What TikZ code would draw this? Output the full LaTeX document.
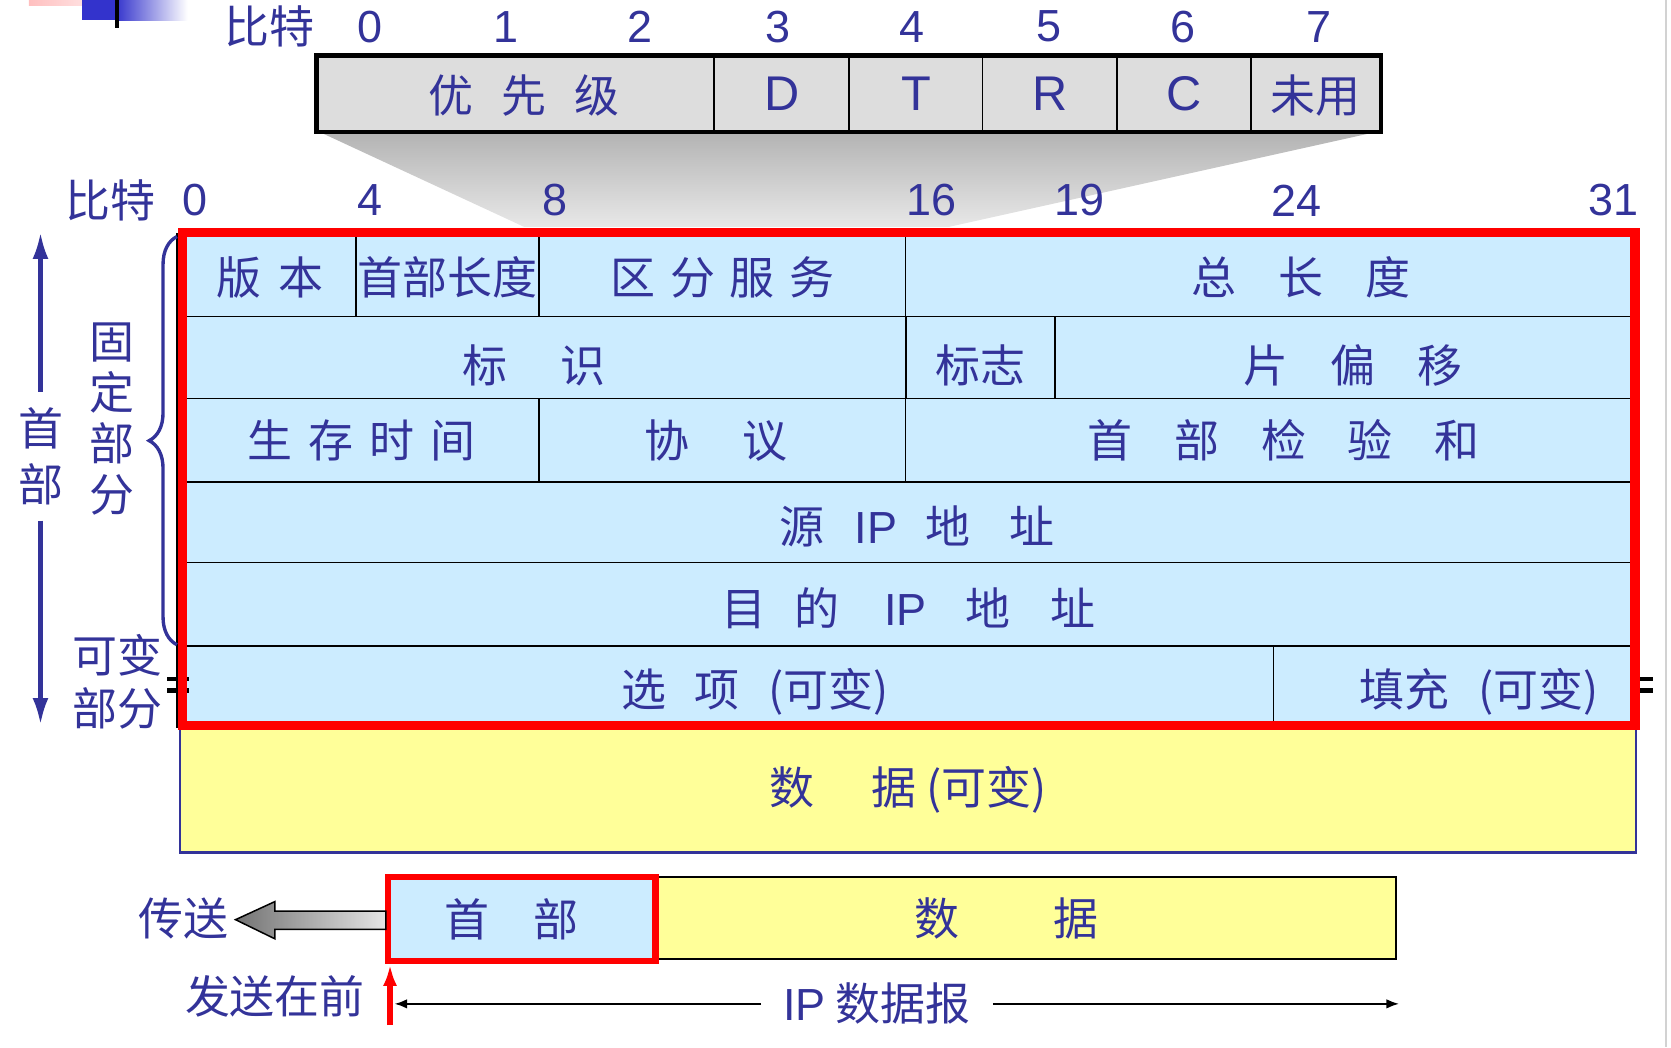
\documentclass[tikz,border=0pt]{standalone}
\usepackage{fontspec}
\setmainfont{Noto Sans CJK SC}
\newfontfamily\lat{Liberation Sans}
\usetikzlibrary{decorations.pathreplacing,arrows.meta}
\definecolor{ink}{HTML}{333399}
\definecolor{hdrblue}{HTML}{CCECFF}
\definecolor{datayel}{HTML}{FFFF99}
\definecolor{tosgray}{HTML}{DDDDDD}
\definecolor{slideblue}{HTML}{3333CC}
\newcommand{\gap}[1]{\hspace{#1em}}
\newcommand{\low}[2]{\raisebox{-#1}[\height][\depth]{#2}}

\begin{document}
\begin{tikzpicture}[x=0.01cm,y=-0.01cm,
  every node/.style={text=ink,font=\fontsize{12}{14}\selectfont,inner sep=0pt},
  field/.style={draw=black,line width=0.45pt,fill=hdrblue},
  tosfield/.style={draw=black,line width=0.45pt,fill=tosgray},
  bit/.style={font=\lat\fontsize{12}{14}\selectfont}]

  \useasboundingbox (0,0) rectangle (1568,982.5);

  % slide corner and border
  \shade[left color=red!25,right color=red!8] (27,0) rectangle (97,5);
  \fill[slideblue] (77,0) rectangle (108,19);
  \shade[left color=slideblue,right color=white] (108,0) rectangle (176,19);
  \draw[line width=1pt] (110,0) -- (110,26);
  \draw[gray!35,line width=0.6pt] (1563,0) -- (1563,982.5);

  % zoom shadow
  \shade[top color=black!30,bottom color=black!9] (298,123) -- (1295,123) -- (890,213) -- (492,213) -- cycle;

  % service type byte
  \node (tosbits) at (253,25) {比特};
  \node[bit] (t0) at (347,25) {0};
  \node[bit] (t1) at (475,25) {1};
  \node[bit] (t2) at (601,25) {2};
  \node[bit] (t3) at (730,25) {3};
  \node[bit] (t4) at (856,25) {4};
  \node[bit] (t5) at (984,25) {5};
  \node[bit] (t6) at (1110,25) {6};
  \node[bit] (t7) at (1238,25) {7};

  \node[tosfield,minimum width=3.72cm,minimum height=0.70cm] (prec) at (484,88) {\low{0.02cm}{\gap{.38}优\gap{.62}先\gap{.62}级}};
  \node[tosfield,minimum width=1.27cm,minimum height=0.70cm] (dbit) at (733.5,88) {\lat\fontsize{13}{14}\selectfont D};
  \node[tosfield,minimum width=1.25cm,minimum height=0.70cm] (tbit) at (859.5,88) {\lat\fontsize{13}{14}\selectfont T};
  \node[tosfield,minimum width=1.26cm,minimum height=0.70cm] (rbit) at (985,88) {\lat\fontsize{13}{14}\selectfont R};
  \node[tosfield,minimum width=1.26cm,minimum height=0.70cm] (cbit) at (1111,88) {\lat\fontsize{13}{14}\selectfont C};
  \node[tosfield,minimum width=1.21cm,minimum height=0.70cm] (unused) at (1234.5,88) {\low{0.02cm}{未用}};
  \draw[line width=1.2pt] (prec.north west) rectangle (unused.south east);

  % header bit numbers
  \node (hdrbits) at (104,188) {比特};
  \node[bit] (b0) at (183,188) {0};
  \node[bit] (b4) at (347,188) {4};
  \node[bit] (b8) at (521,188) {8};
  \node[bit] (b16) at (874,188) {16};
  \node[bit] (b19) at (1013,188) {19};
  \node[bit] (b24) at (1217,188) {24};
  \node[bit] (b31) at (1514,188) {31};

  % data part
  \node[draw=ink,line width=0.6pt,fill=datayel,minimum width=13.66cm,minimum height=1.17cm] (data) at (852,741.5) {数\gap{1.26}据 (可变)};
  \draw[line width=0.4pt] (166,219) -- (166,683);

  % header fields
  \node[field,minimum width=1.62cm,minimum height=0.78cm] (ver) at (253,258) {\low{0.02cm}{版\gap{.38}本}};
  \node[field,minimum width=1.72cm,minimum height=0.78cm] (hlen) at (420,258) {\low{0.02cm}{首部长度}};
  \node[field,minimum width=3.44cm,minimum height=0.78cm] (ds) at (678,258) {\low{0.02cm}{区\gap{.33}分\gap{.33}服\gap{.33}务}};
  \node[field,minimum width=6.83cm,minimum height=0.78cm] (tlen) at (1191.5,258) {\low{0.02cm}{\gap{1.4}总\gap{.93}长\gap{.93}度}};

  \node[field,minimum width=6.78cm,minimum height=0.77cm] (ident) at (511,335.5) {\low{0.07cm}{标\gap{1.17}识\gap{.48}\mbox{}}};
  \node[field,minimum width=1.40cm,minimum height=0.77cm] (flags) at (920,335.5) {\low{0.07cm}{标志}};
  \node[field,minimum width=5.43cm,minimum height=0.77cm] (fragoff) at (1261.5,335.5) {\low{0.07cm}{\gap{.38}片\gap{.93}偏\gap{.93}移}};

  \node[field,minimum width=3.34cm,minimum height=0.78cm] (ttl) at (339,413) {生\gap{.36}存\gap{.36}时\gap{.36}间};
  \node[field,minimum width=3.44cm,minimum height=0.78cm] (proto) at (678,413) {协\gap{1.2}议\gap{.29}\mbox{}};
  \node[field,minimum width=6.83cm,minimum height=0.78cm] (chksum) at (1191.5,413) {\gap{.62}首\gap{.93}部\gap{.93}检\gap{.93}验\gap{.93}和};

  \node[field,minimum width=13.61cm,minimum height=0.76cm] (srcip) at (852.5,490) {\low{0.04cm}{\gap{.38}源\gap{.66}{\lat IP}\gap{.64}地\gap{.85}址}};
  \node[field,minimum width=13.61cm,minimum height=0.78cm] (dstip) at (852.5,567) {\low{0.04cm}{目\gap{.62}的\gap{1}{\lat IP}\gap{.86}地\gap{.9}址}};

  \node[field,minimum width=10.23cm,minimum height=0.74cm] (opts) at (683.5,643) {\low{0.06cm}{\gap{1.2}选\gap{.62}项\gap{.64}(可变)}};
  \node[field,minimum width=3.38cm,minimum height=0.74cm] (pad) at (1364,643) {\low{0.06cm}{\gap{1.15}填充\gap{.64}(可变)}};

  \draw[line width=1.2pt] (157,637) -- (177,637) (157,648) -- (177,648);
  \draw[line width=1.2pt] (1539,637) -- (1551,637) (1539,648) -- (1551,648);
  \draw[red,line width=2.6pt] (ver.north west) rectangle (pad.south east);

  % left side labels
  \node[align=center,font=\fontsize{12}{15}\selectfont] (hdrlbl) at (38,428) {首\\部};
  \coordinate (htop) at (38,218);
  \coordinate (hbot) at (38,680);
  \draw[ink,line width=1.1pt,-{Latex[length=0.25cm,width=0.15cm]}] (hdrlbl.north) ++(0,-14) -- (htop);
  \draw[ink,line width=1.1pt,-{Latex[length=0.25cm,width=0.15cm]}] (hdrlbl.south) ++(0,14) -- (hbot);
  \node[align=center,font=\fontsize{12}{13.6}\selectfont] (fixlbl) at (105,393) {固\\定\\部\\分};
  \draw[ink,line width=0.9pt,decorate,decoration={brace,amplitude=0.26cm}] (166,605) -- (166,222);
  \node[align=center,font=\fontsize{12}{14.2}\selectfont] (varlbl) at (110,640) {可变\\部分};

  % datagram below
  \node[draw=black,line width=0.6pt,fill=datayel,minimum width=6.95cm,minimum height=0.77cm] (databox) at (962.5,861.5) {数\gap{2.1}据\gap{.86}\mbox{}};
  \node[draw=red,line width=1.7pt,fill=hdrblue,minimum width=2.51cm,minimum height=0.79cm] (hdrbox) at (489.5,862.5) {首\gap{.98}部\gap{.43}\mbox{}};
  \draw[line width=0.4pt,left color=black!55,right color=black!10]
    (362,855) -- (258,855) -- (258,846) -- (221,863) -- (258,881) -- (258,872) -- (362,872) -- cycle;
  \node (sendlbl) at (172,862) {传送};
  \node (firstlbl) at (258,935) {发送在前};
  \coordinate (rfoot) at (366,962);
  \draw[red,line width=1.7pt,-{Latex[length=0.2cm,width=0.13cm]}] (rfoot) -- (rfoot |- hdrbox.south);

  \node[inner xsep=0.2cm] (dgram) at (823,942) {{\lat IP} 数据报};
  \coordinate (dgl) at (370,942);
  \coordinate (dgr) at (1313,942);
  \draw[line width=0.6pt,-{Latex[length=0.12cm,width=0.09cm]}] (dgram) -- (dgl);
  \draw[line width=0.6pt,-{Latex[length=0.12cm,width=0.09cm]}] (dgram) -- (dgr);
\end{tikzpicture}
\end{document}
